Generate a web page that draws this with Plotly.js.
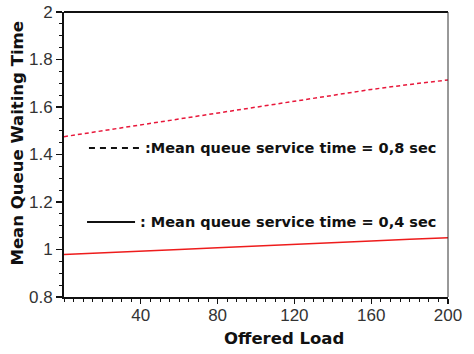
<!DOCTYPE html>
<html>
<head>
<meta charset="utf-8">
<script src="https://cdn.plot.ly/plotly-3.0.1.min.js"></script>
<style>html,body{margin:0;padding:0;background:#fff;}#chart{width:474px;height:354px;}</style>
</head>
<body>
<div id="chart"></div>
<script>
// Data
const offeredLoad = [0, 20, 40, 60, 80, 100, 120, 140, 160, 180, 200];
const waitService08 = [1.475, 1.50, 1.525, 1.55, 1.575, 1.60, 1.625, 1.65, 1.674, 1.695, 1.714];
const waitService04 = [0.979, 0.985, 0.993, 1.000, 1.007, 1.015, 1.022, 1.029, 1.036, 1.043, 1.049];
const xTickVals = [40, 80, 120, 160, 200];
const yTickVals = [0.8, 1, 1.2, 1.4, 1.6, 1.8, 2];
const yTickText = ['0.8', '1', '1.2', '1.4', '1.6', '1.8', '2'];
const label08 = ':Mean queue service time = 0,8 sec';
const label04 = ': Mean queue service time = 0,4 sec';
const xTitle = 'Offered Load';
const yTitle = 'Mean Queue Waiting Time';

const traces = [
  {x: offeredLoad, y: waitService08, mode: 'lines', line: {color: '#e8173a', width: 1.5, dash: '4px,3px'}, showlegend: false, hoverinfo: 'skip'},
  {x: offeredLoad, y: waitService04, mode: 'lines', line: {color: '#ee1c1c', width: 1.5}, showlegend: false, hoverinfo: 'skip'}
];

const tickFont = {family: 'Liberation Sans, Arial, sans-serif', size: 17, color: '#333'};
const boldFont = {family: 'DejaVu Sans, Verdana, sans-serif', size: 14.5, color: '#111', weight: 'bold'};
const titleFont = {family: 'DejaVu Sans, Verdana, sans-serif', size: 16.5, color: '#111', weight: 'bold'};

const layout = {
  width: 474, height: 354,
  margin: {l: 64, r: 26, t: 12, b: 57, pad: 0},
  paper_bgcolor: '#fff', plot_bgcolor: '#fff',
  xaxis: {
    range: [0, 200], tickvals: xTickVals, ticktext: xTickVals.map(String),
    showgrid: false, zeroline: false, showline: true, linecolor: '#111', linewidth: 2,
    ticks: 'outside', ticklen: 5, tickwidth: 1.2, tickcolor: '#111',
    tickfont: tickFont, ticklabelstandoff: -3,
    minor: {dtick: 5, ticks: 'outside', ticklen: 3, tickcolor: '#111', tickwidth: 1, showgrid: false}
  },
  yaxis: {
    range: [0.8, 2], tickvals: yTickVals, ticktext: yTickText,
    showgrid: false, zeroline: false, showline: true, linecolor: '#111', linewidth: 2,
    ticks: 'outside', ticklen: 6, tickwidth: 1.2, tickcolor: '#111',
    tickfont: tickFont,
    minor: {dtick: 0.05, ticks: 'outside', ticklen: 3, tickcolor: '#111', tickwidth: 1, showgrid: false}
  },
  shapes: [
    {type: 'line', xref: 'paper', yref: 'paper', x0: 0, x1: 1, y0: 1, y1: 1, line: {color: '#111', width: 2}},
    {type: 'line', xref: 'paper', yref: 'paper', x0: 1, x1: 1, y0: 0, y1: 1, line: {color: '#333', width: 1}},
    {type: 'line', xref: 'paper', yref: 'paper', x0: 0.065, x1: 0.205, y0: 0.523, y1: 0.523, line: {color: '#111', width: 2, dash: '6px,5px'}},
    {type: 'line', xref: 'paper', yref: 'paper', x0: 0.060, x1: 0.185, y0: 0.263, y1: 0.263, line: {color: '#111', width: 2}}
  ],
  annotations: [
    {xref: 'paper', yref: 'paper', x: 0.207, y: 0.523, xanchor: 'left', yanchor: 'middle', text: label08, showarrow: false, font: boldFont},
    {xref: 'paper', yref: 'paper', x: 0.192, y: 0.263, xanchor: 'left', yanchor: 'middle', text: label04, showarrow: false, font: boldFont},
    {xref: 'paper', yref: 'paper', x: 0.573, y: -0.144, xanchor: 'center', yanchor: 'middle', text: xTitle, showarrow: false, font: titleFont},
    {xref: 'paper', yref: 'paper', x: -0.121, y: 0.537, xanchor: 'center', yanchor: 'middle', text: yTitle, textangle: -90, showarrow: false, font: titleFont}
  ]
};

Plotly.newPlot('chart', traces, layout, {staticPlot: true, displayModeBar: false});
</script>
</body>
</html>
